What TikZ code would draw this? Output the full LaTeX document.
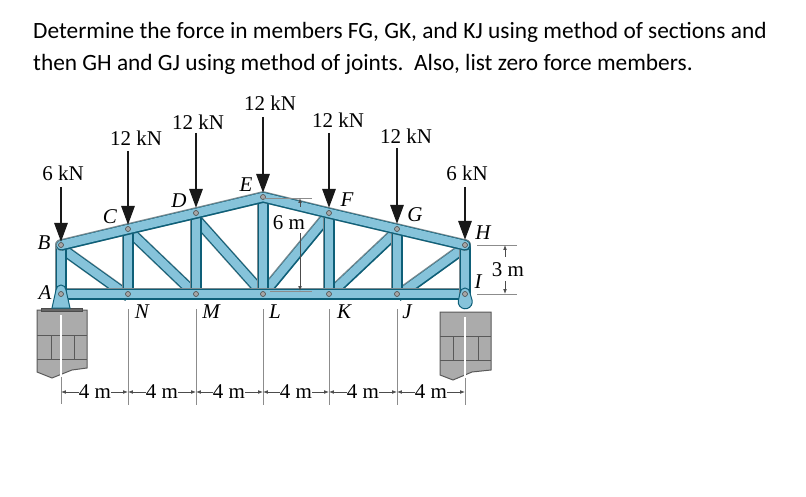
\documentclass[tikz,border=0pt]{standalone}
\usepackage{fontspec}
\setmainfont{Liberation Serif}
\newfontfamily\headfont{Carlito}
\usetikzlibrary{arrows.meta,backgrounds}
\definecolor{memberblue}{HTML}{86C3DA}
\definecolor{memberdark}{HTML}{0E5F78}
\definecolor{memberedge}{HTML}{7A8A90}
\definecolor{wallgray}{HTML}{ABABAB}
\tikzset{>={Latex[scale=0.8]},
  joint/.style={circle,draw=black!70,fill=black!35,line width=0.6pt,inner sep=0pt,minimum size=5pt},
  member/.style={draw=memberedge,line width=11.5pt,
    postaction={draw=memberdark,line width=10.5pt,transform canvas={shift={(0.5pt,-0.5pt)}}},
    postaction={draw=memberblue,line width=8.5pt,transform canvas={shift={(0pt,0pt)}}}},
  load/.style={draw=black!90,line width=2.8pt,-{Triangle[width=13pt,length=19pt]},shorten >=0pt},
  txt/.style={inner sep=0pt,font=\fontsize{21}{25}\selectfont},
  letter/.style={inner sep=0pt,font=\fontsize{21}{25}\selectfont\itshape},
  head/.style={inner sep=0pt,anchor=base west,font=\fontsize{23.35}{28}\selectfont\headfont},
  ext/.style={draw=black!45,line width=0.8pt},
  dimarrow/.style={draw=black!70,line width=0.7pt,->},
  wall/.style={draw=black!65,fill=wallgray,line width=1pt},
  brick/.style={draw=black!65,line width=1pt}}
\begin{document}
\begin{tikzpicture}[x=1pt,y=-1pt]
    \useasboundingbox (0,0) rectangle (806,497);
    \node[head] (line1) at (33,39) {Determine the force in members FG, GK, and KJ using method of sections and};
    \node[head] (line2) at (33,71) {then GH and GJ using method of joints.\ \ Also, list zero force members.};
    % joints
    \node[joint] (A) at (61,294) {};
    \node[joint] (B) at (61,245) {};
    \node[joint] (C) at (128,229) {};
    \node[joint] (D) at (196,213) {};
    \node[joint] (E) at (263,197) {};
    \node[joint] (F) at (329,213) {};
    \node[joint] (G) at (397,229) {};
    \node[joint] (H) at (465,245) {};
    \node[joint] (I) at (465,294) {};
    \node[joint] (J) at (397,294) {};
    \node[joint] (K) at (329,294) {};
    \node[joint] (L) at (263,294) {};
    \node[joint] (M) at (196,294) {};
    \node[joint] (N) at (128,294) {};
    % members and supports
    \begin{scope}[on background layer]
      \draw[wall] (37,310) -- (87,310) -- (87,368) -- (72,370) -- (52,378) -- (37,372) -- cycle;
      \draw[wall] (440,312) -- (491,312) -- (491,370) -- (472,372) -- (453,380) -- (440,375) -- cycle;
      \draw[brick] (37,335) -- (87,335) (37,359) -- (87,359) (51,335) -- (51,359) (74,335) -- (74,359);
      \draw[brick] (440,336) -- (491,336) (440,360) -- (491,360) (453,336) -- (453,360) (478,336) -- (478,360);
      \draw[draw=white,line width=1.5pt] (61,315) -- (61,376);
      \draw[draw=white,line width=1.5pt] (465,317) -- (465,378);
      \draw[draw=black!70,fill=black!60] (41,308) rectangle (82,311);
      \draw[member] ([yshift=-3pt]B.center) -- ([yshift=-2pt]N.center);
      \draw[member] ([yshift=-1pt]C.center) -- ([yshift=-1pt]M.center);
      \draw[member] ([yshift=-6pt]D.center) -- (L.center);
      \draw[member] ([yshift=-1pt]F.center) -- (L.center);
      \draw[member] ([yshift=-2pt]G.center) -- ([yshift=-1pt]K.center);
      \draw[member] ([yshift=-2pt]H.center) -- ([yshift=-2pt]J.center);
      \draw[member] (C.center) -- (N.center);
      \draw[member] (D.center) -- (M.center);
      \draw[member] (E.center) -- (L.center);
      \draw[member] (F.center) -- (K.center);
      \draw[member] (G.center) -- (J.center);
      \draw[member] (A.center) -- (N.center) -- (M.center) -- (L.center) -- (K.center) -- (J.center) -- (I.center);
      \draw[member,line cap=round] (A.center) -- (B.center);
      \draw[member,line cap=round] (I.center) -- (H.center);
      \draw[member,line cap=round,line join=round] (B.center) -- (C.center) -- (D.center) -- (E.center) -- (F.center) -- (G.center) -- (H.center);
      \draw[draw=memberdark,fill=memberblue,line width=1pt] (52,308) -- (56,290) arc[start angle=180,end angle=360,radius=5] -- (70,308) -- cycle;
      \draw[draw=memberdark,fill=memberblue,line width=1pt] (460,293) arc[start angle=180,end angle=360,radius=5] -- (472,300) arc[start angle=-15,end angle=195,radius=7] -- cycle;
    \end{scope}
    % loads
    \node[txt] (lB) at (63,173) {6 kN};
    \node[txt] (lC) at (136,138) {12 kN};
    \node[txt] (lD) at (198,122) {12 kN};
    \node[txt] (lE) at (270,103) {12 kN};
    \node[txt] (lF) at (338,120) {12 kN};
    \node[txt] (lG) at (406,136) {12 kN};
    \node[txt] (lH) at (467,173) {6 kN};
    \coordinate (tB) at (61,187);
    \coordinate (tC) at (128,151);
    \coordinate (tD) at (196,133);
    \coordinate (tE) at (263,117);
    \coordinate (tF) at (329,133);
    \coordinate (tG) at (397,148);
    \coordinate (tH) at (465,187);
    \draw[load] (tB) -- ([yshift=3pt]B.center);
    \draw[load] (tC) -- ([yshift=4pt]C.center);
    \draw[load] (tD) -- ([yshift=5pt]D.center);
    \draw[load] (tE) -- ([yshift=4pt]E.center);
    \draw[load] (tF) -- ([yshift=5pt]F.center);
    \draw[load] (tG) -- ([yshift=5pt]G.center);
    \draw[load] (tH) -- ([yshift=5pt]H.center);
    % letters
    \node[letter] (nA) at (45,293) {A};
    \node[letter] (nB) at (44,243) {B};
    \node[letter] (nC) at (110,217) {C};
    \node[letter] (nD) at (179,201) {D};
    \node[letter] (nE) at (246,185) {E};
    \node[letter] (nF) at (347,200) {F};
    \node[letter] (nG) at (415,215) {G};
    \node[letter] (nH) at (483,233) {H};
    \node[letter] (nI) at (478,282) {I};
    \node[letter] (nJ) at (407,312) {J};
    \node[letter] (nK) at (344,312) {K};
    \node[letter] (nL) at (275,312) {L};
    \node[letter] (nM) at (211,312) {M};
    \node[letter] (nN) at (142,312) {N};
    % dimensions
    \node[txt] (d1) at (95,392) {4 m};
    \node[txt] (d2) at (162,392) {4 m};
    \node[txt] (d3) at (229,392) {4 m};
    \node[txt] (d4) at (296,392) {4 m};
    \node[txt] (d5) at (363,392) {4 m};
    \node[txt] (d6) at (431,392) {4 m};
    \coordinate (fA) at (61,392);
    \coordinate (fN) at (128,392);
    \coordinate (fM) at (196,392);
    \coordinate (fL) at (263,392);
    \coordinate (fK) at (329,392);
    \coordinate (fJ) at (397,392);
    \coordinate (fI) at (465,392);
    \draw[ext] ([yshift=-83pt]A.center) -- ([yshift=-110pt]A.center);
    \draw[ext] ([yshift=-15pt]N.center) -- ([yshift=-111pt]N.center);
    \draw[ext] ([yshift=-15pt]M.center) -- ([yshift=-111pt]M.center);
    \draw[ext] ([yshift=-15pt]L.center) -- ([yshift=-111pt]L.center);
    \draw[ext] ([yshift=-15pt]K.center) -- ([yshift=-111pt]K.center);
    \draw[ext] ([yshift=-15pt]J.center) -- ([yshift=-111pt]J.center);
    \draw[ext] ([yshift=-84pt]I.center) -- ([yshift=-111pt]I.center);
    \draw[dimarrow] (d1) -- (fA);
    \draw[dimarrow] (d1) -- (fN);
    \draw[dimarrow] (d2) -- (fN);
    \draw[dimarrow] (d2) -- (fM);
    \draw[dimarrow] (d3) -- (fM);
    \draw[dimarrow] (d3) -- (fL);
    \draw[dimarrow] (d4) -- (fL);
    \draw[dimarrow] (d4) -- (fK);
    \draw[dimarrow] (d5) -- (fK);
    \draw[dimarrow] (d5) -- (fJ);
    \draw[dimarrow] (d6) -- (fJ);
    \draw[dimarrow] (d6) -- (fI);
    \node[txt] (dh) at (289,223) {6 m};
    \coordinate (h1) at (263,198);
    \coordinate (h2) at (312,198);
    \coordinate (h3) at (270,291);
    \coordinate (h4) at (312,291);
    \coordinate (h5) at (300,198);
    \coordinate (h6) at (300,291);
    \coordinate (h7) at (300,207);
    \coordinate (h8) at (300,233);
    \draw[ext] (h1) -- (h2);
    \draw[ext] (h3) -- (h4);
    \draw[dimarrow] (h7) -- (h5);
    \draw[dimarrow] (h8) -- (h6);
    \node[txt] (dv) at (508,270) {3 m};
    \coordinate (v1) at (477,245);
    \coordinate (v2) at (517,245);
    \coordinate (v3) at (477,294);
    \coordinate (v4) at (517,294);
    \coordinate (v5) at (505,245);
    \coordinate (v6) at (505,294);
    \coordinate (v7) at (505,257);
    \coordinate (v8) at (505,281);
    \draw[ext] (v1) -- (v2);
    \draw[ext] (v3) -- (v4);
    \draw[dimarrow] (v7) -- (v5);
    \draw[dimarrow] (v8) -- (v6);
\end{tikzpicture}
\end{document}
